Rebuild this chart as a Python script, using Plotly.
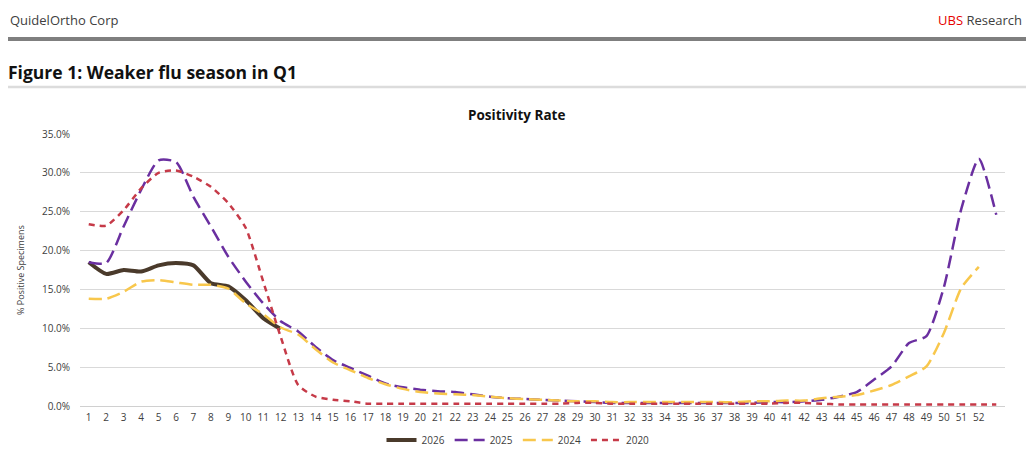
import plotly.graph_objects as go

weeks = list(range(1, 54))
tick_labels = [str(i) for i in range(1, 53)]

s2026 = [18.5, 17.0, 17.5, 17.3, 18.1, 18.4, 18.1, 15.8, 15.4, 13.6, 11.3, 9.9]

s2025 = [18.5, 18.4, 23.1, 27.8, 31.6, 31.4, 26.9, 23.1, 19.2, 16.0,
         13.2, 10.9, 9.6, 7.6, 5.9, 4.9, 3.9, 2.9, 2.4, 2.1,
         1.9, 1.8, 1.5, 1.2, 1.0, 0.9, 0.8, 0.7, 0.6, 0.5,
         0.4, 0.4, 0.4, 0.4, 0.4, 0.4, 0.4, 0.4, 0.4, 0.5,
         0.5, 0.6, 0.8, 1.2, 1.8, 3.4, 5.1, 8.1, 9.0, 15.3,
         25.4, 31.8, 24.6]

s2024 = [13.8, 13.8, 14.7, 16.0, 16.2, 15.9, 15.6, 15.6, 15.1, 13.2,
         11.8, 10.1, 9.2, 7.3, 5.6, 4.6, 3.6, 2.8, 2.2, 1.8,
         1.6, 1.5, 1.4, 1.2, 1.0, 0.9, 0.8, 0.7, 0.6, 0.6,
         0.5, 0.5, 0.5, 0.5, 0.5, 0.5, 0.5, 0.5, 0.6, 0.6,
         0.7, 0.7, 1.0, 1.2, 1.4, 2.0, 2.7, 3.8, 5.1, 9.4,
         15.2, 17.9]

s2020 = [23.4, 23.2, 25.2, 28.0, 30.0, 30.3, 29.5, 28.2, 26.1, 22.9,
         16.0, 8.9, 2.7, 1.2, 0.8, 0.6, 0.3, 0.3, 0.3, 0.3,
         0.3, 0.3, 0.3, 0.3, 0.3, 0.3, 0.3, 0.3, 0.4, 0.4,
         0.3, 0.3, 0.3, 0.3, 0.3, 0.3, 0.3, 0.3, 0.3, 0.3,
         0.4, 0.4, 0.3, 0.2, 0.2, 0.2, 0.2, 0.2, 0.2, 0.2,
         0.2, 0.2, 0.2]

FONT = "Open Sans"
TXT = "#404040"

# plot area in pixels
L, R, T, B = 80, 1005, 134, 406
W, H = 1026, 464


def px(x):
    return (x - L) / (R - L)


def py(y):
    return (B - y) / (B - T)


fig = go.Figure()
fig.add_trace(go.Scatter(x=weeks[:len(s2026)], y=s2026, name="2026", mode="lines",
                         line=dict(color="#4a3a2b", width=4, shape="spline", smoothing=0.6)))
fig.add_trace(go.Scatter(x=weeks[:len(s2025)], y=s2025, name="2025", mode="lines",
                         line=dict(color="#6a2fa0", width=2.5, dash="13px,6px", shape="spline", smoothing=0.6)))
fig.add_trace(go.Scatter(x=weeks[:len(s2024)], y=s2024, name="2024", mode="lines",
                         line=dict(color="#f8c74c", width=2.5, dash="13px,6px", shape="spline", smoothing=0.6)))
fig.add_trace(go.Scatter(x=weeks[:len(s2020)], y=s2020, name="2020", mode="lines",
                         line=dict(color="#c63a48", width=2.5, dash="6px,5px", shape="spline", smoothing=0.6)))

shapes = [
    dict(type="line", xref="paper", yref="paper", x0=px(8), x1=px(1026), y0=py(39), y1=py(39),
         line=dict(color="#7f7f7f", width=4)),
    dict(type="line", xref="paper", yref="paper", x0=px(8), x1=px(1026), y0=py(87), y1=py(87),
         line=dict(color="#dcdcdc", width=2.5)),
]

annotations = [
    dict(text="QuidelOrtho Corp", xref="paper", yref="paper", x=px(8), y=py(20),
         xanchor="left", yanchor="middle", showarrow=False,
         font=dict(family=FONT, size=13, color=TXT)),
    dict(text="<span style='color:#e60000'>UBS</span> Research", xref="paper", yref="paper",
         x=px(1024), y=py(20), xanchor="right", yanchor="middle", showarrow=False,
         font=dict(family=FONT, size=13, color=TXT)),
    dict(text="<b>Figure 1: Weaker flu season in Q1</b>", xref="paper", yref="paper",
         x=px(6), y=py(72), xanchor="left", yanchor="middle", showarrow=False,
         font=dict(family=FONT, size=17.5, color="#111111")),
    dict(text="<b>Positivity Rate</b>", xref="paper", yref="paper",
         x=px(516), y=py(115), xanchor="center", yanchor="middle", showarrow=False,
         font=dict(family=FONT, size=13.5, color="#111111")),
    dict(text="% Positive Specimens", xref="paper", yref="paper",
         x=px(20), y=py(270), xanchor="center", yanchor="middle", showarrow=False,
         textangle=-90, font=dict(family=FONT, size=9, color=TXT)),
]

fig.update_layout(
    width=W, height=H,
    margin=dict(l=L, r=W - R, t=T, b=H - B, autoexpand=False),
    paper_bgcolor="white", plot_bgcolor="white",
    font=dict(family=FONT, color=TXT, size=10),
    shapes=shapes, annotations=annotations,
    showlegend=True,
    legend=dict(orientation="h", xref="paper", yref="paper",
                x=px(518), y=py(440), xanchor="center", yanchor="middle",
                font=dict(family=FONT, size=10, color=TXT),
                itemwidth=30, tracegroupgap=0, bgcolor="rgba(0,0,0,0)"),
    xaxis=dict(range=[0.5, 53.5], tickmode="array", tickvals=weeks[:len(tick_labels)],
               ticktext=tick_labels, showgrid=False, zeroline=False, showline=False,
               ticks="", ticklabelstandoff=4,
               tickfont=dict(family=FONT, size=10, color=TXT), tickangle=0),
    yaxis=dict(range=[0, 35], dtick=5, tickformat=".1f", ticksuffix="%",
               showgrid=True, gridcolor="#d9d9d9", gridwidth=1, zeroline=True,
               zerolinecolor="#d0d0d0", zerolinewidth=1, showline=False, ticks="",
               ticklabelstandoff=9,
               tickfont=dict(family=FONT, size=10, color=TXT)),
)

fig.write_html("out.html")
